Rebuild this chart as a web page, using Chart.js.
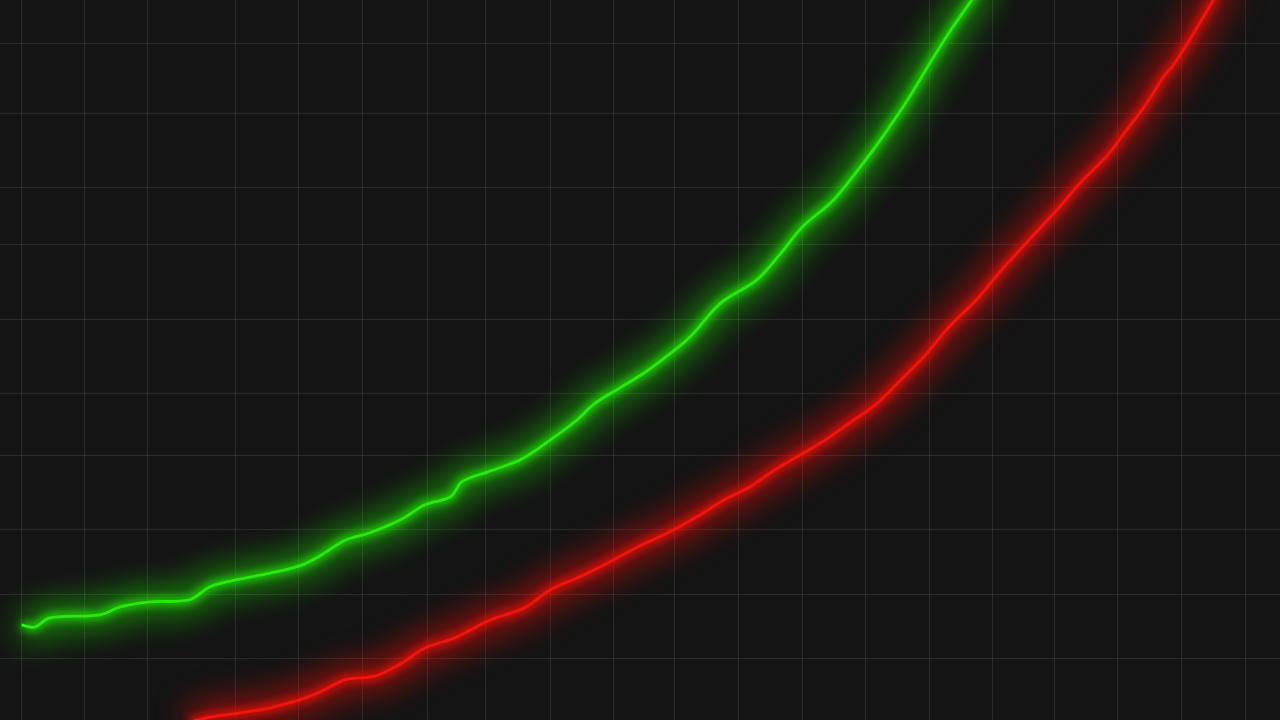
<!DOCTYPE html>
<html>
<head>
<meta charset="utf-8">
<script src="https://cdn.jsdelivr.net/npm/chart.js@4/dist/chart.umd.min.js"></script>
<style>
  html, body { margin: 0; padding: 0; background: #141414; }
  #wrap { width: 1280px; height: 720px; }
</style>
</head>
<body>
<div id="wrap"><canvas id="myChart" width="1280" height="720"></canvas></div>
<script>
// values (x: time, y: value, both 0-100)
const greenX = [1.7, 2.7, 3.9, 7.8, 9.4, 11.7, 14.8, 16.4, 18.0, 21.1, 23.4, 25.0, 27.0, 28.9, 31.3, 33.2, 35.2, 36.1, 38.0, 40.6, 43.0, 45.1, 46.5, 48.4, 50.4, 52.0, 53.9, 56.3, 59.1, 60.9, 62.7, 65.1, 67.2, 68.8, 70.9, 72.7, 74.2, 75.8, 77.0];
const greenY = [13.2, 12.9, 14.2, 14.6, 15.7, 16.4, 16.7, 18.5, 19.3, 20.4, 21.4, 22.8, 25.0, 26.0, 27.8, 29.9, 31.0, 33.1, 34.4, 36.1, 38.9, 41.7, 44.0, 46.1, 48.3, 50.4, 53.2, 57.9, 61.1, 64.6, 68.5, 72.2, 76.8, 80.6, 86.1, 91.4, 95.6, 99.7, 102.8];

const redX = [14.8, 16.4, 18.8, 21.1, 23.4, 25.0, 27.0, 29.3, 31.3, 33.2, 35.5, 38.3, 41.0, 43.0, 45.3, 47.9, 50.0, 52.3, 54.7, 56.6, 58.6, 60.5, 62.5, 64.5, 66.4, 68.4, 70.3, 72.3, 74.2, 76.2, 78.1, 80.2, 82.6, 84.4, 86.5, 88.0, 89.6, 91.0, 91.6, 92.6, 94.8, 95.7];
const redY = [-0.3, 0.4, 1.0, 1.7, 2.8, 3.9, 5.6, 6.1, 7.8, 10.0, 11.4, 13.9, 15.6, 18.1, 19.9, 22.2, 24.2, 26.1, 28.5, 30.6, 32.4, 34.7, 36.8, 38.9, 41.3, 43.8, 47.1, 50.7, 54.7, 58.2, 62.2, 66.3, 70.9, 74.6, 78.4, 81.9, 85.7, 89.6, 90.8, 93.5, 100, 102.8];

// grid positions
const gridX = [1.7, 6.6, 11.5, 18.4, 23.3, 28.3, 33.4, 37.9, 43.0, 47.9, 52.7, 57.7, 62.7, 67.6, 72.6, 77.5, 82.4, 87.3, 92.3, 97.3];
const gridY = [8.6, 17.4, 26.4, 36.8, 45.4, 55.6, 66.0, 73.9, 84.3, 93.9];

const toPoints = (xs, ys) => xs.map((x, i) => ({ x: x, y: ys[i] }));
const greenPts = toPoints(greenX, greenY);
const redPts = toPoints(redX, redY);

const glow = {
    id: 'glow',
    beforeDraw(chart) {
        const c = chart.ctx;
        c.save();
        c.fillStyle = '#141414';
        c.fillRect(0, 0, chart.width, chart.height);
        c.restore();
    },
    beforeDatasetDraw(chart, args) {
        const ds = chart.data.datasets[args.index];
        chart.ctx.save();
        if (ds.blur) chart.ctx.filter = `blur(${ds.blur}px)`;
    },
    afterDatasetDraw(chart) {
        chart.ctx.restore();
    }
};

const line = (pts, color, width, blur) => ({
    data: pts,
    borderColor: color,
    borderWidth: width,
    pointRadius: 0,
    tension: 0.35,
    blur: blur || 0,
});

new Chart(document.getElementById('myChart'), {
    type: 'line',
    data: {
        datasets: [
            line(redPts, 'rgba(220,10,5,0.7)', 26, 16),
            line(greenPts, 'rgba(25,210,0,0.65)', 26, 16),
            line(redPts, 'rgba(255,20,10,0.85)', 8, 4),
            line(greenPts, 'rgba(40,245,10,0.85)', 8, 4),
            line(redPts, '#ff2a1c', 2.8),
            line(greenPts, '#42ff1e', 2.8),
            line(redPts, '#ffc8bc', 1.1),
            line(greenPts, '#e0ffd0', 1.1),
        ]
    },
    options: {
        responsive: false,
        animation: false,
        devicePixelRatio: 1,
        layout: { padding: 0 },
        plugins: {
            legend: { display: false },
            tooltip: { enabled: false },
        },
        scales: {
            x: {
                type: 'linear',
                min: 0,
                max: 100,
                afterBuildTicks: axis => { axis.ticks = gridX.map(v => ({ value: v })); },
                ticks: { display: false },
                border: { display: false },
                grid: { color: 'rgba(255,255,255,0.1)', lineWidth: 1, drawTicks: false },
            },
            y: {
                type: 'linear',
                min: 0,
                max: 100,
                afterBuildTicks: axis => { axis.ticks = gridY.map(v => ({ value: v })); },
                ticks: { display: false },
                border: { display: false },
                grid: { color: 'rgba(255,255,255,0.1)', lineWidth: 1, drawTicks: false },
            }
        }
    },
    plugins: [glow]
});
</script>
</body>
</html>
